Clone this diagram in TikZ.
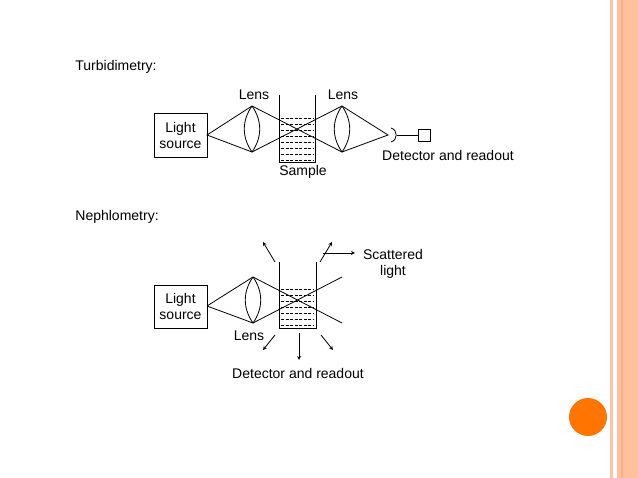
\documentclass[tikz,border=0pt]{standalone}
\usepackage{fontspec}
\setmainfont{Liberation Sans}
\begin{document}
\begin{tikzpicture}[x=1pt,y=-1pt,line width=0.8pt,
  lbl/.style={font=\fontsize{14}{15}\selectfont,inner sep=0pt},
  box/.style={draw,line width=0.8pt},
  arr/.style={->,>=stealth,line width=0.8pt}]
\useasboundingbox (0,0) rectangle (638,478);
\fill[white] (0,0) rectangle (638,478);
% decoration
\fill[orange!20!pink!80] (610,0) rectangle (613,478);
\fill[orange!40!pink!70!white] (617,0) rectangle (638,478);
\fill[orange!50!pink!80] (621,0) rectangle (623,478);
\fill[orange!80!red!90!yellow] (588,417) circle (19);
\node[lbl,anchor=west] (t1) at (75,67) {Turbidimetry:};
% turbidimetry
\draw[box] (154,113) rectangle (207,157);
\node[lbl,align=center] (ls1) at (180.5,135) {Light\\[1pt]source};
\coordinate (a1) at (207,135);
\coordinate (l1t) at (252,106); \coordinate (l1b) at (252,152);
\draw (l1t) to[bend left=35] (l1b) to[bend left=35] (l1t);
\coordinate (l2t) at (342,106); \coordinate (l2b) at (342,152);
\draw (l2t) to[bend left=35] (l2b) to[bend left=35] (l2t);
\draw (a1) -- (l1t) -- (l2b) -- (388,135) -- (l2t) -- (l1b) -- cycle;
\draw (279,95) -- (279,162) -- (315,162) -- (315,95);
\foreach \y in {118,124,...,160} \draw[dashed,line width=0.6pt,dash pattern=on 3pt off 1.5pt] (281,\y) -- (313,\y);
\draw (391,128) .. controls (398,130) and (398,140) .. (391,142);
\draw (397,135) -- (418,135);
\draw[box] (418,129) rectangle (430,141);
\node[lbl] (lens1) at (254,95) {Lens};
\node[lbl] (lens2) at (343,95) {Lens};
\node[lbl] (samp) at (303,172) {Sample};
\node[lbl] (det1) at (448,155) {Detector and readout};
% nephelometry
\node[lbl,anchor=west] (t2) at (75,217) {Nephlometry:};
\draw[box] (154,285) rectangle (207,328);
\node[lbl,align=center] (ls2) at (180.5,306) {Light\\[1pt]source};
\coordinate (a2) at (207,306);
\coordinate (m1t) at (253,277); \coordinate (m1b) at (253,323);
\draw (m1t) to[bend left=35] (m1b) to[bend left=35] (m1t);
\draw (a2) -- (m1t) -- (342,323);
\draw (a2) -- (m1b) -- (342,277);
\draw (279,262) -- (279,328) -- (316,328) -- (316,262);
\foreach \y in {289,295,...,327} \draw[dashed,line width=0.6pt,dash pattern=on 3pt off 1.5pt] (281,\y) -- (314,\y);
\draw[arr] (275,262) -- (263,242);
\draw[arr] (320,262) -- (332,242);
\draw[arr] (323,253) -- (355,253);
\node[lbl,align=center] (sc) at (393,264) {Scattered\\[1pt]light};
\draw[arr] (275,335) -- (263,350);
\draw[arr] (299,333) -- (299,360);
\draw[arr] (321,335) -- (333,350);
\node[lbl] (lens3) at (249,336) {Lens};
\node[lbl] (det2) at (298,373) {Detector and readout};
\end{tikzpicture}
\end{document}
